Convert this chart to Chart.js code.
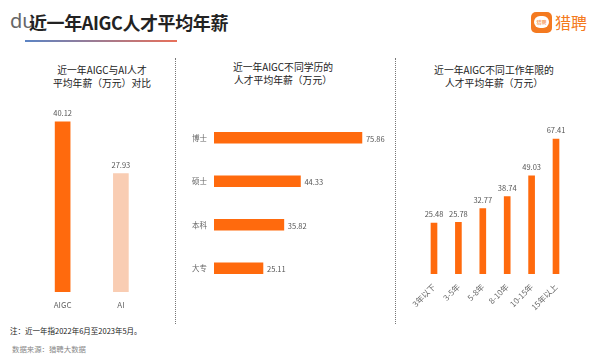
<!DOCTYPE html>
<html lang="zh">
<head>
<meta charset="utf-8">
<style>
    html, body { margin: 0; padding: 0; background: #fff; }
    #page { position: relative; width: 600px; height: 360px; overflow: hidden; font-family: 'Noto Sans CJK SC', sans-serif; }
    #page canvas { position: absolute; }
    .txt { position: absolute; white-space: nowrap; }
    #ghost { left: 10px; top: 7px; font: 20px 'Noto Sans', sans-serif; color: #666; }
    #title { left: 29px; top: 9px; font-size: 18px; font-weight: 700; color: #222; letter-spacing: -0.4px; }
    #rule { position: absolute; left: 25px; top: 40px; width: 152px; height: 2px; background: linear-gradient(90deg, #5b84c4, #e8705a); }
    .divider { position: absolute; top: 58px; height: 266px; border-left: 1px dotted #777; }
    .head { position: absolute; width: 180px; text-align: center; font-size: 9.8px; line-height: 13px; color: #222; }
    #note { left: 10px; top: 325px; font-size: 7.5px; color: #222; }
    #source { left: 12px; top: 343px; font-size: 7.4px; color: #888; }
    #logo { position: absolute; left: 531px; top: 12px; width: 21px; height: 21px; border-radius: 5px; background: #f47a20; }
    #logo span { position: absolute; left: 3px; top: 4px; width: 15px; height: 12px; border-radius: 6px; background: #fff; color: #f47a20; font-size: 5px; line-height: 12px; text-align: center; }
    #brand { left: 555px; top: 10px; font-size: 16px; color: #f47a20; }
</style>
</head>
<body>
<div id="page">
    <div class="txt" id="ghost">du</div>
    <div class="txt" id="title">近一年AIGC人才平均年薪</div>
    <div id="rule"></div>
    <div id="logo"><span>猎聘</span></div>
    <div class="txt" id="brand">猎聘</div>
    <div class="divider" style="left:175px"></div>
    <div class="divider" style="left:395px"></div>
    <div class="head" style="left:12px;top:64px">近一年AIGC与AI人才<br>平均年薪（万元）对比</div>
    <div class="head" style="left:193px;top:61px">近一年AIGC不同学历的<br>人才平均年薪（万元）</div>
    <div class="head" style="left:404px;top:64px">近一年AIGC不同工作年限的<br>人才平均年薪（万元）</div>
    <canvas id="chartAi" width="160" height="260" style="left:22px;top:60px"></canvas>
    <canvas id="chartEdu" width="210" height="260" style="left:178px;top:57px"></canvas>
    <canvas id="chartYears" width="188" height="260" style="left:400px;top:60px"></canvas>
    <div class="txt" id="note">注：近一年指2022年6月至2023年5月。</div>
    <div class="txt" id="source">数据来源：猎聘大数据</div>
</div>
<script src="https://cdn.jsdelivr.net/npm/chart.js@4"></script>
<script>
const aiLabels = ['AIGC', 'AI'];
const aiValues = [40.12, 27.93];
const aiColors = ['#ff6a0d', '#f9cdb3'];

const eduLabels = ['博士', '硕士', '本科', '大专'];
const eduValues = [75.86, 44.33, 35.82, 25.11];

const yearLabels = ['3年以下', '3-5年', '5-8年', '8-10年', '10-15年', '15年以上'];
const yearValues = [25.48, 25.78, 32.77, 38.74, 49.03, 67.41];

const orange = '#ff6a0d';
const fontFamily = "'Noto Sans CJK SC', sans-serif";

// prints the value next to each bar
const valueLabels = {
    id: 'valueLabels',
    afterDatasetsDraw(chart) {
        const c = chart.ctx;
        const horizontal = chart.options.indexAxis === 'y';
        c.save();
        c.font = '7.5px ' + fontFamily;
        c.fillStyle = '#555';
        chart.getDatasetMeta(0).data.forEach((bar, i) => {
            const text = chart.data.datasets[0].data[i].toFixed(2);
            if (horizontal) {
                c.textAlign = 'left';
                c.textBaseline = 'middle';
                c.fillText(text, bar.x + 4, bar.y + 1);
            } else {
                c.textAlign = 'center';
                c.textBaseline = 'bottom';
                c.fillText(text, bar.x, bar.y - 5);
            }
        });
        c.restore();
    }
};

function makeChart(id, labels, values, colors, thickness, padding, extra) {
    const valueAxis = { display: false, min: 0, max: extra.max, grid: { display: false } };
    const catAxis = {
        grid: { display: false, drawTicks: false },
        border: { display: false },
        ticks: { font: { family: fontFamily, size: extra.tickSize }, color: '#666', autoSkip: false, padding: extra.tickPad,
                 minRotation: extra.rotation || 0, maxRotation: extra.rotation || 0 },
        afterFit(scale) {
            if (extra.horizontal) scale.width = padding.axis; else scale.height = padding.axis;
        }
    };
    return new Chart(document.getElementById(id), {
        type: 'bar',
        data: { labels: labels, datasets: [{ data: values, backgroundColor: colors, barThickness: thickness }] },
        options: {
            indexAxis: extra.horizontal ? 'y' : 'x',
            responsive: false,
            animation: false,
            layout: { padding: padding.box },
            scales: extra.horizontal ? { x: valueAxis, y: catAxis } : { x: catAxis, y: valueAxis },
            plugins: {
                legend: { display: false },
                tooltip: { enabled: false },
                title: { display: false }
            }
        },
        plugins: [valueLabels]
    });
}

makeChart('chartAi', aiLabels, aiValues, aiColors, 15,
    { box: { left: 11.5, right: 32, top: 30, bottom: 0 }, axis: 28 },
    { max: 47.6, tickSize: 8, tickPad: 8 });

makeChart('chartEdu', eduLabels, eduValues, orange, 11,
    { box: { left: 0, right: 18, top: 59, bottom: 27 }, axis: 36 },
    { max: 80, horizontal: true, tickSize: 7.5, tickPad: 7 });

makeChart('chartYears', yearLabels, yearValues, orange, 6,
    { box: { left: 21.8, right: 19.8, top: 30, bottom: 0 }, axis: 46 },
    { max: 92, rotation: 45, tickSize: 8, tickPad: 8 });
</script>
</body>
</html>
